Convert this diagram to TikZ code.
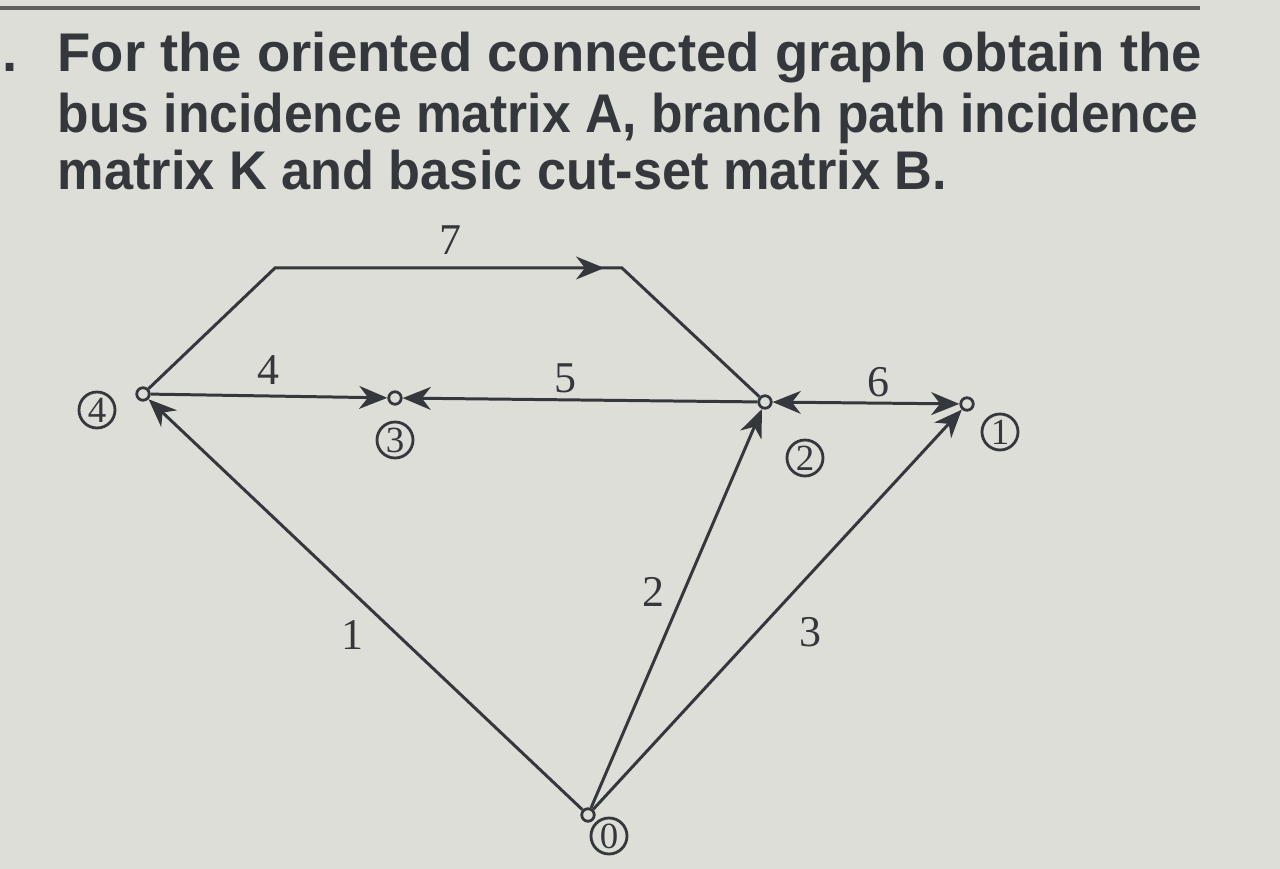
\documentclass[tikz,border=0pt]{standalone}
\usepackage{fontspec}
\setmainfont{Liberation Serif}
\newfontfamily\titlefont{Liberation Sans}
\usetikzlibrary{arrows.meta,decorations.markings}
\definecolor{paper}{RGB}{222,222,217}
\definecolor{ink}{RGB}{52,55,60}
\tikzset{
  bus/.style={circle, draw=ink, line width=0.8pt, inner sep=0pt, minimum size=1.25mm, fill=paper},
  busno/.style={circle, draw=ink, line width=0.8pt, inner sep=0pt, minimum size=3.6mm, text=ink, font=\fontsize{10.5}{10.5}\selectfont},
  brno/.style={text=ink, font=\fontsize{12.5}{12.5}\selectfont},
  titleline/.style={anchor=base west, inner sep=0pt, text=ink, font=\titlefont\bfseries\fontsize{15.5}{16}\selectfont},
  branch/.style={draw=ink, line width=0.85pt, -{Stealth[length=8pt,width=6.5pt,inset=2.5pt]}},
}
\begin{document}
\begin{tikzpicture}[x=0.1mm, y=-0.1mm]
\fill[paper] (0,0) rectangle (1280,869);
\useasboundingbox (0,0) rectangle (1280,869);
\draw[ink!80, line width=1.2pt] (0,8) -- (1200,8);
% question text
\node[titleline] (q0) at (2,72) {.};
\node[titleline] (q1) at (57,72) {For the oriented connected graph obtain the};
\node[titleline] (q2) at (57,133) {\scalebox{0.947}[1]{bus incidence matrix A, branch path incidence}};
\node[titleline] (q3) at (57,190) {\scalebox{0.96}[1]{matrix K and basic cut-set matrix B.}};
% buses
\node[bus] (b0) at (588,815){};
\node[bus] (b1) at (967,404){};
\node[bus] (b2) at (765,402){};
\node[bus] (b3) at (395,398){};
\node[bus] (b4) at (143,394){};
\node[busno] (n0) at (609,836){0};
\node[busno] (n1) at (1000,432){1};
\node[busno] (n2) at (805,458){2};
\node[busno] (n3) at (395,440){3};
\node[busno] (n4) at (97,410){4};
% branches
\draw[branch] (b0) -- (b4);
\draw[branch] (b0) -- (b2);
\draw[branch] (b0) -- (b1);
\draw[branch] (b4) -- (b3);
\draw[branch] (b2) -- (b3);
\draw[branch, {Stealth[length=8pt,width=6.5pt,inset=2.5pt]}-{Stealth[length=8pt,width=6.5pt,inset=2.5pt]}] (b2) -- (b1);
\draw[draw=ink, line width=0.85pt, decoration={markings, mark=at position 0.71 with {\arrow[ink]{Stealth[length=8pt,width=6.5pt,inset=2.5pt]}}}, postaction={decorate}]
  (b4) -- (275,268) -- (622,268) -- (b2);
\node[brno] (l1) at (352,635){1};
\node[brno] (l2) at (653,592){2};
\node[brno] (l3) at (810,632){3};
\node[brno] (l4) at (268,370){4};
\node[brno] (l5) at (565,378){5};
\node[brno] (l6) at (878,382){6};
\node[brno] (l7) at (450,240){7};
\end{tikzpicture}
\end{document}
